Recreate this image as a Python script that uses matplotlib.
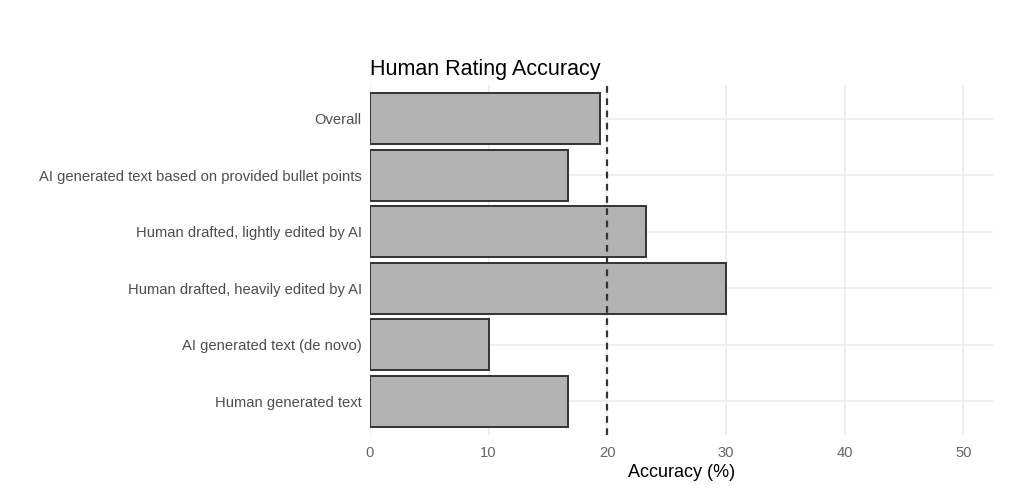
import matplotlib.pyplot as plt
import numpy as np

plt.rcParams['font.family'] = ['Liberation Sans', 'DejaVu Sans']

# dati (dal basso verso l'alto)
categories = ['Human generated text',
              'AI generated text (de novo)',
              'Human drafted, heavily edited by AI',
              'Human drafted, lightly edited by AI',
              'AI generated text based on provided bullet points',
              'Overall']
accuracy = [16.7, 10.0, 30.0, 23.3, 16.7, 19.4]
chance_level = 20
x_ticks = [0, 10, 20, 30, 40, 50]

fig = plt.figure(figsize=(10.24, 5), dpi=100)
ax = fig.add_axes([0.3613, 0.13, 0.6084, 0.70])

y = np.arange(len(categories))
ax.barh(y, accuracy, height=0.9, color='#b3b3b3', edgecolor='#333333', linewidth=1.4, zorder=3)
ax.axvline(chance_level, color='#333333', linestyle=(0, (3, 2.5)), linewidth=1.6, zorder=4)

ax.set_xlim(0, 52.5)
ax.set_ylim(-0.6, len(categories) - 0.4)
ax.set_xticks(x_ticks)
ax.set_yticks(y)
ax.set_yticklabels(categories)

# stile tipo theme_minimal
for s in ax.spines.values():
    s.set_visible(False)
ax.grid(True, color='#ebebeb', linewidth=1.2, zorder=0)
ax.set_axisbelow(True)
ax.tick_params(length=0, labelsize=10.6, labelcolor='#4d4d4d', pad=6)
ax.tick_params(axis='x', pad=8, labelcolor='#666666')

ax.set_xlabel('Accuracy (%)', fontsize=13, color='black', labelpad=3)
ax.set_title('Human Rating Accuracy', fontsize=15.5, loc='left', color='black', pad=7)

plt.savefig('out.png', dpi=100)
